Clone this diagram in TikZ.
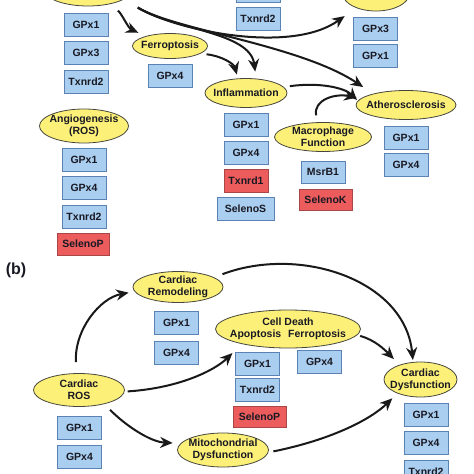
\documentclass[tikz,border=0pt]{standalone}
\usepackage{fontspec}
\setmainfont{Liberation Sans}
\usetikzlibrary{shapes.geometric,arrows.meta}
\definecolor{ellfill}{RGB}{252,240,120}
\definecolor{ellline}{RGB}{70,70,60}
\definecolor{boxfill}{RGB}{170,206,240}
\definecolor{boxline}{RGB}{90,130,180}
\definecolor{redfill}{RGB}{236,92,92}
\definecolor{redline}{RGB}{170,70,70}
\definecolor{txt}{RGB}{25,25,35}
\begin{document}
\begin{tikzpicture}[x=1pt,y=-1pt,
 every node/.style={font=\fontsize{10.5}{12.3}\selectfont\bfseries, text=txt},
 ell/.style={ellipse, draw=ellline, line width=0.8pt, fill=ellfill, inner xsep=-15pt, inner ysep=-10pt, align=center},
 bx/.style={rectangle, draw=boxline, line width=1pt, fill=boxfill, minimum width=44pt, minimum height=23pt, inner sep=0pt},
 rbx/.style={bx, draw=redline, fill=redfill},
 arr/.style={-{Stealth[length=12.5pt,width=11pt]}, line width=2pt, black!90}
]
\useasboundingbox (0,0) rectangle (474,474);
\clip (0,0) rectangle (474,474);

% ---------- panel (a) ----------
\node[ell, minimum width=89pt, minimum height=34pt] (tl) at (88,-11) {};
\node[bx] (tl1) at (86,25) {GPx1};
\node[bx] (tl2) at (86,53) {GPx3};
\node[bx] (tl3) at (86,81.5) {Txnrd2};

\node[bx] (tm0) at (258,-9) {};
\node[bx] (tm1) at (258,19) {Txnrd2};

\node[ell, minimum width=66pt, minimum height=34pt] (tr) at (376,-6) {};
\node[bx] (tr1) at (375.5,28.5) {GPx3};
\node[bx] (tr2) at (375.5,56) {GPx1};

\node[ell, minimum width=75pt, minimum height=25pt] (fer) at (170,46) {Ferroptosis};
\node[bx] (fer1) at (170,76) {GPx4};

\node[ell, minimum width=89pt, minimum height=34pt] (ang) at (84,126) {Angiogenesis\\(ROS)};
\node[bx] (ang1) at (84,159.5) {GPx1};
\node[bx] (ang2) at (84,188) {GPx4};
\node[bx] (ang3) at (84,216.5) {Txnrd2};
\node[rbx, minimum width=52pt, minimum height=22pt] (ang4) at (83,244) {SelenoP};

\node[ell, minimum width=82pt, minimum height=29pt] (inf) at (246,93) {Inflammation};
\node[bx] (inf1) at (246,125) {GPx1};
\node[bx] (inf2) at (246,152.5) {GPx4};
\node[rbx] (inf3) at (246,180.5) {Txnrd1};
\node[bx, minimum width=57pt] (inf4) at (245.5,208.5) {SelenoS};

\node[ell, minimum width=97pt, minimum height=29pt] (mac) at (323,137) {Macrophage\\Function};
\node[bx, minimum height=22pt] (mac1) at (323,172) {MsrB1};
\node[rbx, minimum width=53pt, minimum height=21pt] (mac2) at (325.5,199.5) {SelenoK};

\node[ell, minimum width=100pt, minimum height=29pt] (ath) at (406,105) {Atherosclerosis};
\node[bx] (ath1) at (406,137.5) {GPx1};
\node[bx] (ath2) at (406,165) {GPx4};

\draw[arr, shorten <=10pt, shorten >=8pt] (tl.-34) .. controls (122,14) and (128,28) .. (fer.158);
\draw[arr, shorten <=16pt, shorten >=14pt] (tl.-16) .. controls (175,30) and (290,55) .. (tr.215);
\draw[arr, shorten <=16pt, shorten >=7pt] (tl.-16) .. controls (175,30) and (250,32) .. (inf.55);
\draw[arr, shorten <=16pt, shorten >=12pt] (tl.-16) .. controls (175,30) and (300,45) .. (ath.161);
\draw[arr, shorten <=6pt, shorten >=4pt] (fer.-14) .. controls (222,56) and (234,64) .. (inf.119);
\draw[arr, shorten <=6pt, shorten >=1pt] (inf.9) .. controls (320,82) and (345,88) .. (ath.175);
\draw[arr, shorten <=7pt, shorten >=4pt] (mac.110) .. controls (313,100) and (335,93) .. (ath.172);

% ---------- panel (b) ----------
\node[font=\fontsize{16}{18}\selectfont\bfseries] (blabel) at (16,270) {(b)};

\node[ell, minimum width=90pt, minimum height=31pt] (rem) at (178,287) {Cardiac\\Remodeling};
\node[bx] (rem1) at (176.5,323) {GPx1};
\node[bx] (rem2) at (176.5,352.5) {GPx4};

\node[ell, minimum width=91pt, minimum height=33pt] (ros) at (79,390) {Cardiac\\ROS};
\node[bx] (ros1) at (79.5,427.5) {GPx1};
\node[bx] (ros2) at (79.5,456.5) {GPx4};

\node[ell, minimum width=145pt, minimum height=38pt] (cd) at (288,329) {Cell Death\\Apoptosis\hspace{4pt} Ferroptosis};
\node[bx] (cd1) at (257.5,363.5) {GPx1};
\node[bx] (cd2) at (257.5,390) {Txnrd2};
\node[rbx, minimum width=53pt, minimum height=21pt] (cd3) at (259.5,416.5) {SelenoP};
\node[bx] (cd4) at (319.5,361.5) {GPx4};

\node[ell, minimum width=73pt, minimum height=35pt] (dys) at (420.5,379.5) {Cardiac\\Dysfunction};
\node[bx] (dys1) at (426,414.5) {GPx1};
\node[bx] (dys2) at (426,442.5) {GPx4};
\node[bx] (dys3) at (426,471.5) {Txnrd2};

\node[ell, minimum width=91pt, minimum height=34pt] (mit) at (223,450) {Mitochondrial\\Dysfunction};

\draw[arr, shorten <=11pt, shorten >=6pt] (ros.98) .. controls (74,330) and (100,298) .. (rem.186);
\draw[arr, shorten <=3pt, shorten >=13pt] (ros.-2) .. controls (180,388) and (215,370) .. (cd.198);
\draw[arr, shorten <=8pt, shorten >=8pt] (ros.-29) .. controls (125,425) and (150,442) .. (mit.171);
\draw[arr, shorten <=9pt, shorten >=2pt] (rem.15) .. controls (300,245) and (405,280) .. (dys.113.5);
\draw[arr, shorten <=3pt, shorten >=8pt] (cd.-5) .. controls (375,340) and (385,350) .. (dys.145);
\draw[arr, shorten <=5pt, shorten >=7pt] (mit.-3) .. controls (330,440) and (370,420) .. (dys.211.5);
\end{tikzpicture}
\end{document}
